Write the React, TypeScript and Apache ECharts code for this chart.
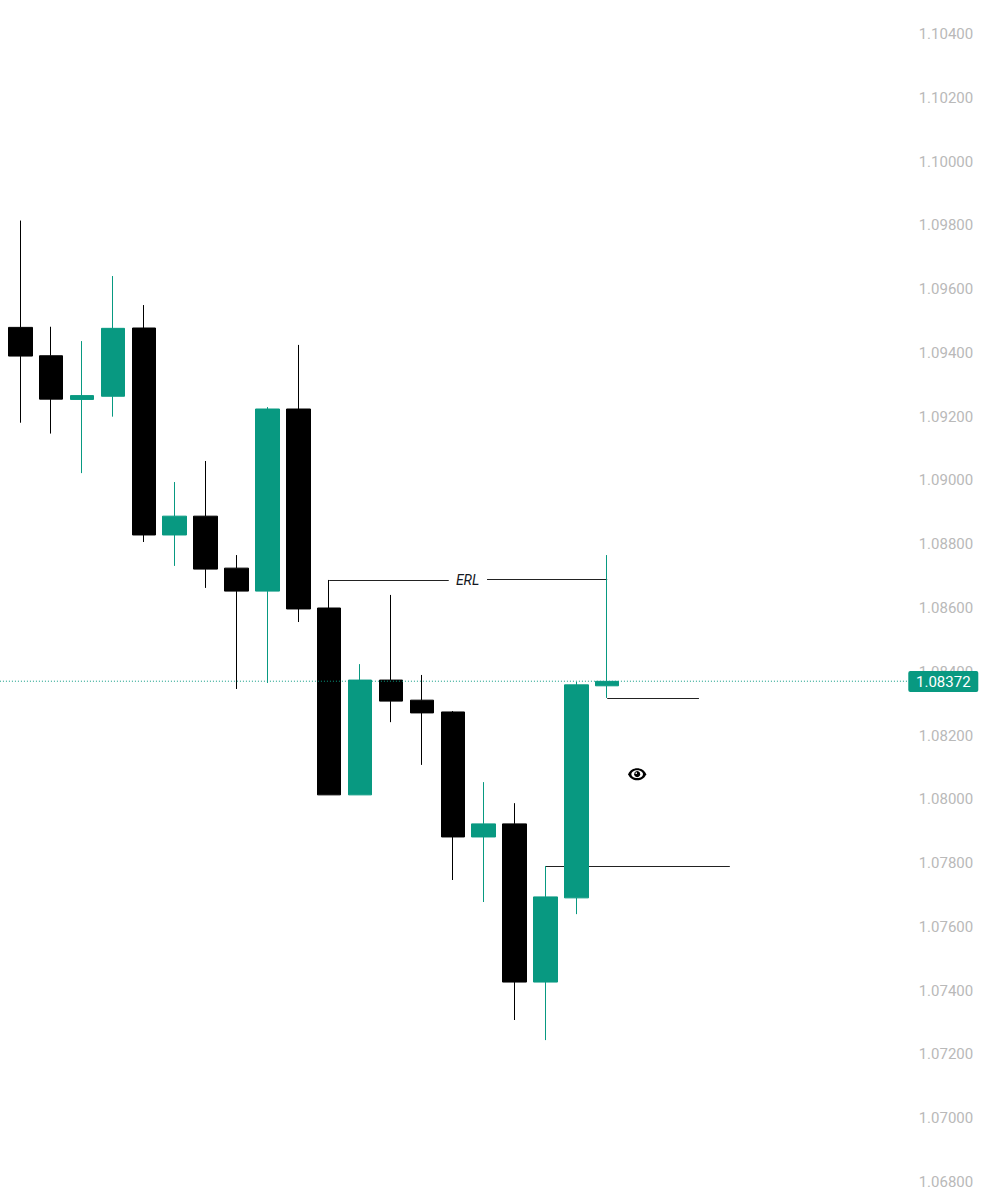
import React, { useEffect, useRef } from "react";
import * as echarts from "echarts";

const categories = ["1","2","3","4","5","6","7","8","9","10","11","12","13","14","15","16","17","18","19","20","21","22","23","24","25","26","27","28","29"];
const opens  = [1.0948,1.09391,1.09254,1.09264,1.09478,1.08829,1.08888,1.08725,1.08653,1.09224,1.086,1.08014,1.08374,1.08311,1.08274,1.07882,1.07923,1.07427,1.07691,1.08356];
const closes = [1.0939,1.09255,1.09266,1.09477,1.08829,1.08888,1.08722,1.08653,1.09224,1.08597,1.08014,1.08374,1.08308,1.08271,1.07882,1.07923,1.07427,1.07694,1.08359,1.0837];
const lows   = [1.09181,1.09147,1.09023,1.092,1.08807,1.08732,1.08663,1.08346,1.08365,1.08556,1.08014,1.08014,1.08242,1.08108,1.07747,1.07678,1.07308,1.07245,1.0764,1.08318];
const highs  = [1.09815,1.09482,1.09437,1.09641,1.0955,1.08995,1.09061,1.08766,1.0923,1.09425,1.08688,1.08424,1.08641,1.0839,1.08277,1.08054,1.07988,1.07791,1.08368,1.08766];

const lastPrice = 1.08372;
const lastPriceLabel = "1.08372";
const annotationText = "ERL";

// [x1, y1, x2, y2] in candle-index / price units
const levelLines = [
  [10, 1.08688, 13.87, 1.08688],
  [15.11, 1.0869, 19, 1.08691],
  [19, 1.08318, 21.97, 1.08317],
  [17, 1.07791, 22.97, 1.07792],
];
const priceLine = [[-0.66, lastPrice, 28.74, lastPrice]];
const erlPoint = [[14.48, 1.08689]];
const eyePoint = [[19.97, 1.08079]];
const badgePoint = [[29.88, lastPrice]];

const GREEN = "#089981";
const BLACK = "#000000";

export default function App() {
  const ref = useRef<HTMLDivElement>(null);
  useEffect(() => {
    const chart = echarts.init(ref.current!, null, { renderer: "svg" });
    const crisp = (v: number) => Math.round(v) + 0.5;
    const segment = (stroke: string, dash?: number[], width = 1) => (params: any, api: any) => {
      const a = api.coord([api.value(0), api.value(1)]);
      const b = api.coord([api.value(2), api.value(3)]);
      return {
        type: "line",
        shape: {
          x1: a[0],
          y1: dash ? a[1] + 0.5 : crisp(a[1]),
          x2: b[0],
          y2: dash ? b[1] + 0.5 : crisp(b[1]),
        },
        style: { stroke, lineWidth: width, lineDash: dash, fill: "none" },
      };
    };
    chart.setOption({
      animation: false,
      backgroundColor: "#ffffff",
      grid: { left: 4.85, top: 34, width: 895.81, height: 1148, containLabel: false },
      xAxis: [
        { type: "category", data: categories, show: false, boundaryGap: true },
        { type: "value", min: -0.5, max: 28.5, show: false },
      ],
      yAxis: {
        type: "value",
        position: "right",
        min: 1.068,
        max: 1.104,
        interval: 0.002,
        scale: true,
        axisLine: { show: false },
        axisTick: { show: false },
        splitLine: { show: false },
        axisLabel: {
          margin: 18,
          color: "#b9b9b9",
          fontFamily: "Roboto",
          fontSize: 15,
          formatter: (v: number) => v.toFixed(5),
        },
      },
      series: [
        {
          type: "custom",
          name: "levels",
          xAxisIndex: 1,
          z: 1,
          clip: false,
          silent: true,
          data: levelLines,
          encode: { x: [0, 2], y: [1, 3] },
          renderItem: segment("#222222"),
        },
        {
          type: "candlestick",
          name: "price",
          z: 2,
          barWidth: 24,
          data: opens.map((o, i) => [o, closes[i], lows[i], highs[i]]),
          itemStyle: {
            color: GREEN,
            color0: BLACK,
            borderColor: GREEN,
            borderColor0: BLACK,
            borderWidth: 1,
          },
        },
        {
          type: "custom",
          name: "last price line",
          xAxisIndex: 1,
          z: 3,
          clip: false,
          silent: true,
          data: priceLine,
          encode: { x: [0, 2], y: [1, 3] },
          renderItem: segment(GREEN, [1, 2]),
        },
        {
          type: "custom",
          name: "ERL",
          xAxisIndex: 1,
          z: 4,
          clip: false,
          silent: true,
          data: erlPoint,
          encode: { x: 0, y: 1 },
          renderItem: (params: any, api: any) => {
            const p = api.coord([api.value(0), api.value(1)]);
            return {
              type: "text",
              x: p[0],
              y: p[1] + 0.5,
              style: {
                text: annotationText,
                fill: "#131722",
                font: "italic 14px Roboto",
                align: "center",
                verticalAlign: "middle",
              },
            };
          },
        },
        {
          type: "custom",
          name: "eye",
          xAxisIndex: 1,
          z: 4,
          clip: false,
          silent: true,
          data: eyePoint,
          encode: { x: 0, y: 1 },
          renderItem: (params: any, api: any) => {
            const p = api.coord([api.value(0), api.value(1)]);
            return {
              type: "group",
              x: p[0],
              y: p[1],
              children: [
                { type: "path", shape: { pathData: "M-9 0C-6 -8 6 -8 9 0C6 8 -6 8 -9 0Z", x: -9, y: -6, width: 18, height: 12 }, style: { fill: "#000" } },
                { type: "ellipse", shape: { cx: 0, cy: 0, rx: 5.8, ry: 3.9 }, style: { fill: "#fff" } },
                { type: "circle", shape: { cx: 0, cy: 0, r: 3 }, style: { fill: "#000" } },
                { type: "circle", shape: { cx: -1, cy: -1, r: 0.8 }, style: { fill: "#fff" } },
              ],
            };
          },
        },
        {
          type: "custom",
          name: "last price badge",
          xAxisIndex: 1,
          z: 5,
          clip: false,
          silent: true,
          data: badgePoint,
          encode: { x: 0, y: 1 },
          renderItem: (params: any, api: any) => {
            const p = api.coord([api.value(0), api.value(1)]);
            return {
              type: "group",
              x: p[0],
              y: p[1] + 0.8,
              children: [
                { type: "rect", shape: { x: -35, y: -10.5, width: 70, height: 21, r: 2 }, style: { fill: GREEN } },
                { type: "text", x: 0, y: 0.5, style: { text: lastPriceLabel, fill: "#ffffff", font: "15px Roboto", align: "center", verticalAlign: "middle" } },
              ],
            };
          },
        },
      ],
    });
    return () => chart.dispose();
  }, []);
  return <div ref={ref} style={{ position: "absolute", left: 0, top: 0, width: 985, height: 1200 }} />;
}
